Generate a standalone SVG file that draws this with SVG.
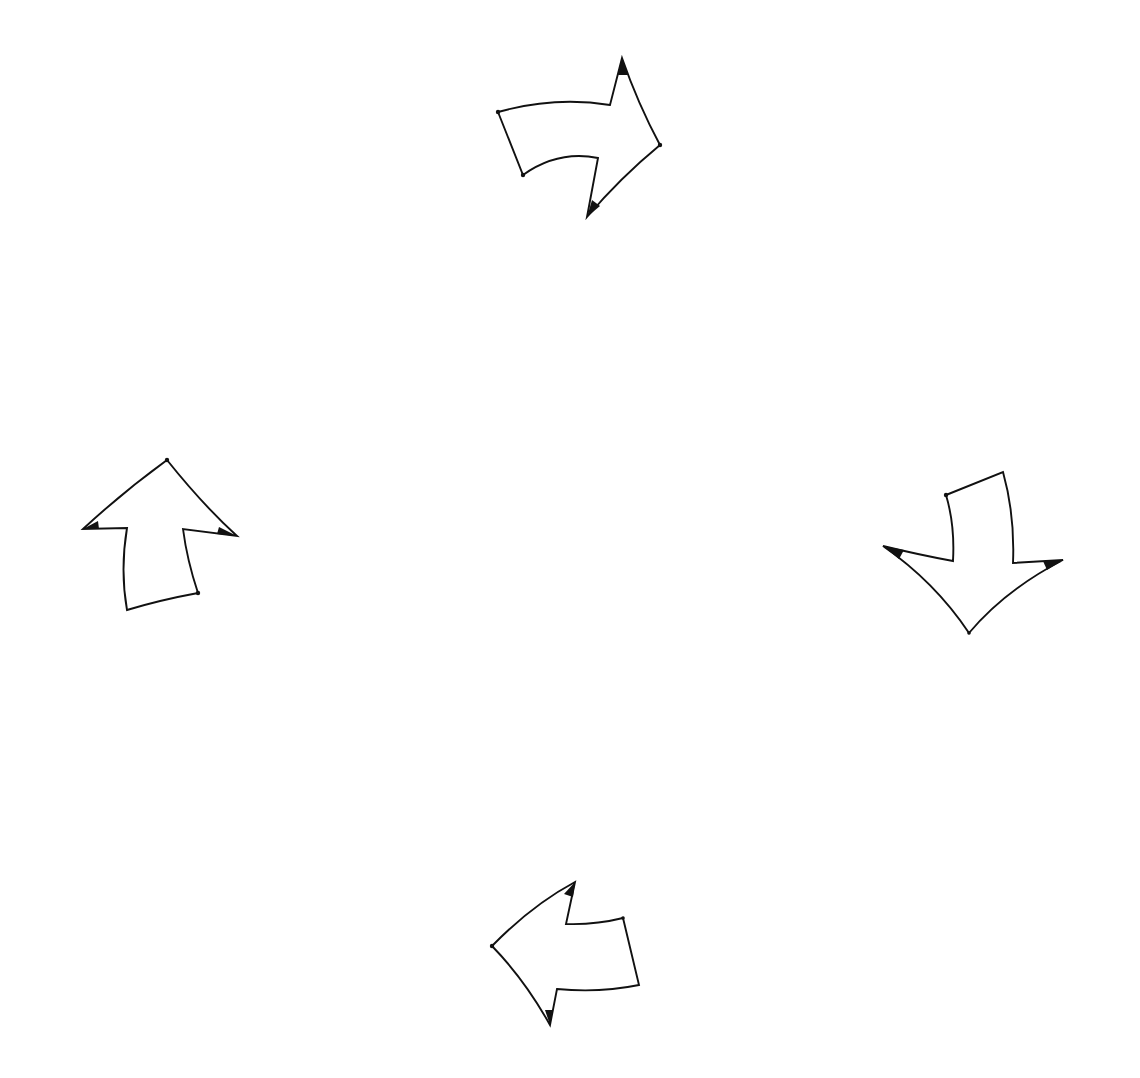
<svg xmlns="http://www.w3.org/2000/svg" width="1140" height="1078" viewBox="0 0 1140 1078">
<style>
.arrow{fill:#fff;stroke:#111;stroke-width:1.9;stroke-linejoin:miter}
.dot{fill:#111}
.wedge{fill:#111;stroke:none}
</style>
<rect width="1140" height="1078" fill="#fff"/>
<g id="arrow-top">
<path class="arrow" d="M498,112 Q555,96 610,105 L622,58 Q638,104 660,145 Q620,178 587,217 L598,158 Q558,150 523,175 Z"/>
<path class="wedge" d="M622,58 L618,75 L628,75 Z"/>
<path class="wedge" d="M587,217 L592,200 L600,206 Z"/>
<circle class="dot" cx="498" cy="112" r="2.2"/>
<circle class="dot" cx="523" cy="175" r="2.2"/>
<circle class="dot" cx="660" cy="145" r="2.2"/>
</g>
<g id="arrow-right">
<path class="arrow" d="M946,495 L1003,472 Q1015,515 1013,563 L1063,560 Q1005,590 969,633 Q935,582 883,546 Q920,555 953,561 Q955,525 946,495 Z"/>
<path class="wedge" d="M883,546 L904,550 L899,559 Z"/>
<path class="wedge" d="M1063,560 L1043,561 L1047,570 Z"/>
<circle class="dot" cx="946" cy="495" r="2.2"/>
<circle class="dot" cx="969" cy="633" r="1.8"/>
</g>
<g id="arrow-bottom">
<path class="arrow" d="M575,882 L566,924 Q595,925 623,918 L639,985 Q600,993 557,989 L550,1025 Q525,980 492,946 Q532,905 575,882 Z"/>
<path class="wedge" d="M575,882 L564,894 L573,897 Z"/>
<path class="wedge" d="M550,1025 L545,1010 L553,1010 Z"/>
<circle class="dot" cx="492" cy="946" r="2.2"/>
<circle class="dot" cx="623" cy="918" r="1.8"/>
</g>
<g id="arrow-left">
<path class="arrow" d="M167,460 Q123,492 83,529 L127,528 Q120,570 127,610 Q160,600 198,593 Q187,560 183,529 L237,536 Q203,505 167,460 Z"/>
<path class="wedge" d="M83,529 L98,521 L99,529 Z"/>
<path class="wedge" d="M237,536 L219,527 L217,534 Z"/>
<circle class="dot" cx="167" cy="460" r="2.2"/>
<circle class="dot" cx="198" cy="593" r="2.2"/>
</g>
</svg>
